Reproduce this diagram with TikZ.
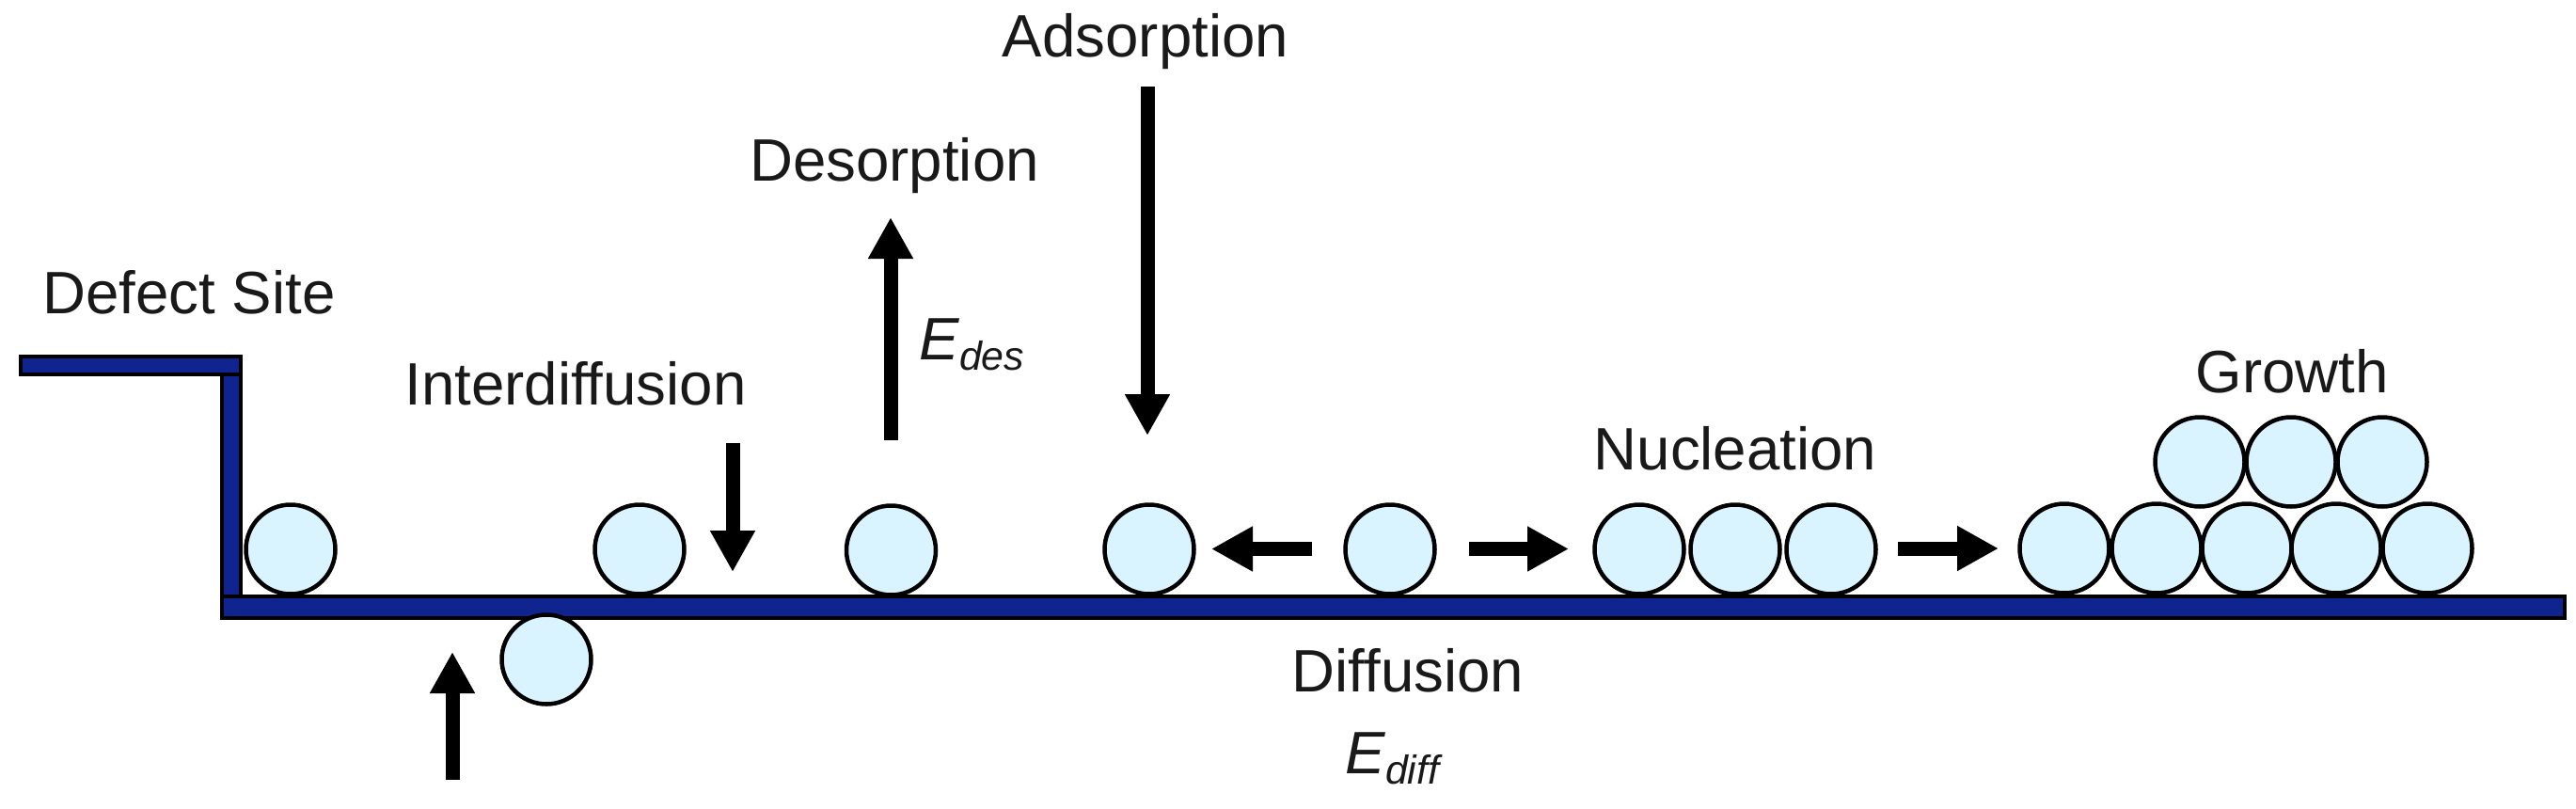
\documentclass[tikz,border=0pt]{standalone}
\usepackage{fontspec}
\setmainfont{Liberation Sans}
\usetikzlibrary{arrows.meta}
\definecolor{wallblue}{HTML}{10248F}
\definecolor{atomblue}{HTML}{D9F4FF}
\tikzset{
  wall/.style={draw=black, fill=wallblue, line width=0.045cm},
  atom/.style={shape=circle, draw=black, fill=atomblue, line width=0.045cm, inner sep=0pt, minimum size=0.95cm},
  lbl/.style={anchor=base, inner sep=0pt, text=black!90, font=\fontsize{18.1}{20}\selectfont},
  bigarrow/.style={line width=0.15cm, -{Triangle[length=0.44cm,width=0.45cm]}}
}
\newcommand{\enrg}[1]{\textit{E\lower0.11cm\hbox{\fontsize{12.2}{14}\selectfont #1}}}
\begin{document}
\begin{tikzpicture}
\useasboundingbox (0,0) rectangle (27.39,8.59);

\draw[wall] (2.36,2.02) rectangle (27.27,2.25);
\draw[wall] (2.36,2.25) rectangle (2.56,4.61);
\draw[wall] (0.22,4.61) rectangle (2.56,4.80);

\node[atom] (edge) at (3.09,2.75) {};
\node[atom] (inter) at (6.80,2.75) {};
\node[atom] (sunk) at (5.81,1.58) {};
\node[atom] (des) at (9.475,2.74) {};
\node[atom] (ads) at (12.22,2.75) {};
\node[atom] (diff) at (14.78,2.75) {};
\foreach \x/\n in {17.43/1, 18.45/2, 19.47/3}
  \node[atom] (nuc\n) at (\x,2.75) {};
\foreach \x/\n in {21.95/1, 22.93/2, 23.89/3, 24.84/4, 25.81/5}
  \node[atom] (base\n) at (\x,2.76) {};
\foreach \x/\n in {23.39/1, 24.36/2, 25.33/3}
  \node[atom] (top\n) at (\x,3.68) {};

\node[lbl] (defectlbl) at (2.01,5.26) {Defect Site};
\node[lbl] (interlbl) at (6.12,4.29) {Interdiffusion};
\node[lbl] (deslbl) at (9.51,6.67) {Desorption};
\node[lbl] (adslbl) at (12.18,7.99) {Adsorption};
\node[lbl] (diffulbl) at (14.97,1.24) {Diffusion};
\node[lbl] (nuclbl) at (18.45,3.60) {Nucleation};
\node[lbl] (growlbl) at (24.37,4.42) {Growth};
\node[lbl, anchor=base west] (edes) at (9.77,4.77) {\enrg{des}};
\node[lbl, anchor=base west] (ediff) at (14.30,0.37) {\enrg{diff}};

\coordinate (a1) at (7.79,3.88);
\coordinate (a2) at (7.79,2.51);
\coordinate (b1) at (4.81,0.30);
\coordinate (b2) at (4.81,1.66);
\coordinate (c1) at (9.47,3.91);
\coordinate (c2) at (9.47,6.28);
\coordinate (d1) at (12.20,7.675);
\coordinate (d2) at (12.20,3.96);
\coordinate (e1) at (13.95,2.755);
\coordinate (e2) at (12.88,2.755);
\coordinate (f1) at (15.62,2.755);
\coordinate (f2) at (16.68,2.755);
\coordinate (g1) at (20.18,2.76);
\coordinate (g2) at (21.25,2.76);

\draw[bigarrow] (a1) -- (a2);
\draw[bigarrow] (b1) -- (b2);
\draw[bigarrow] (c1) -- (c2);
\draw[bigarrow] (d1) -- (d2);
\draw[bigarrow] (e1) -- (e2);
\draw[bigarrow] (f1) -- (f2);
\draw[bigarrow] (g1) -- (g2);
\end{tikzpicture}
\end{document}
